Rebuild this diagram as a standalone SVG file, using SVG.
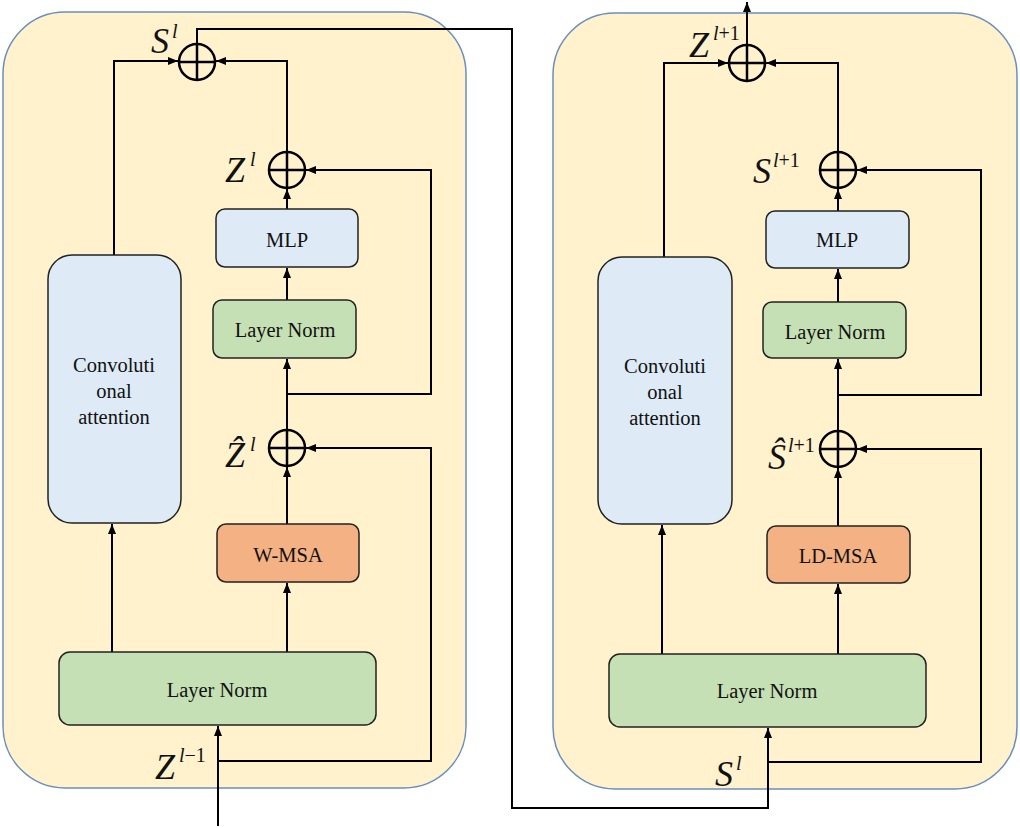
<svg xmlns="http://www.w3.org/2000/svg" width="1020" height="828" viewBox="0 0 1020 828">
<style>
.panel{fill:#FFF2CC;stroke:#6C8EBF;stroke-width:1.5}
.blue{fill:#DEEBF7;stroke:#222;stroke-width:1.5}
.green{fill:#C5E0B4;stroke:#222;stroke-width:1.5}
.orange{fill:#F4B183;stroke:#222;stroke-width:1.5}
.lbl{font-family:"Liberation Serif","Times New Roman",serif;font-size:20.5px;fill:#111;text-anchor:middle}
.math{font-family:"Liberation Serif","DejaVu Serif",serif;font-style:italic;font-size:36px;fill:#111}
.sup{font-family:"Liberation Serif","DejaVu Serif",serif;font-style:italic;font-size:20px;fill:#111}
.up{font-style:normal}
.wire{fill:none;stroke:#000;stroke-width:2}
.add circle{fill:none;stroke:#000;stroke-width:2.5}
.add line{stroke:#000;stroke-width:2.5}
</style>
<defs>
<marker id="ah" markerUnits="userSpaceOnUse" markerWidth="10" markerHeight="8" refX="10" refY="4" orient="auto">
<path d="M0,0 L10,4 L0,8 z" fill="#000"/>
</marker>
</defs>
<rect width="1020" height="828" fill="#fff"/>
<g id="panel-left"><rect class="panel" x="3" y="12" width="463" height="776" rx="62"/></g>
<g id="panel-right"><rect class="panel" x="553" y="13" width="464" height="776" rx="62"/></g>

<g id="connectors" class="wire" marker-end="url(#ah)">
<polyline points="114,255 114,61 178,61"/>
<polyline points="287,152 287,61 216,61"/>
<polyline points="197,44 197,29 512,29 512,808 768,808 768,728"/>
<polyline points="287,209 287,189"/>
<polyline points="287,394 431,394 431,170 306,170"/>
<polyline points="287,300 287,268"/>
<polyline points="287,430 287,359"/>
<polyline points="287,524 287,467"/>
<polyline points="287,652 287,583"/>
<polyline points="112,652 112,524"/>
<polyline points="218,826 218,726"/>
<polyline points="218,761 431,761 431,448 306,448"/>

<polyline points="664,257 664,63 728,63"/>
<polyline points="838,152 838,63 766,63"/>
<polyline points="747,45 747,2"/>
<polyline points="838,211 838,189"/>
<polyline points="838,395 981,395 981,170 857,170"/>
<polyline points="838,302 838,269"/>
<polyline points="838,431 838,359"/>
<polyline points="838,526 838,468"/>
<polyline points="838,654 838,584"/>
<polyline points="662,654 662,525"/>
<polyline points="768,762 981,762 981,449 857,449"/>
</g>

<g id="add-S" class="add"><circle cx="197" cy="62" r="18"/><line x1="179" y1="62" x2="215" y2="62"/><line x1="197" y1="44" x2="197" y2="80"/></g>
<g id="add-Z" class="add"><circle cx="287" cy="170" r="18"/><line x1="269" y1="170" x2="305" y2="170"/><line x1="287" y1="152" x2="287" y2="188"/></g>
<g id="add-Zhat" class="add"><circle cx="287" cy="448" r="18"/><line x1="269" y1="448" x2="305" y2="448"/><line x1="287" y1="430" x2="287" y2="466"/></g>
<g id="add-Z1" class="add"><circle cx="747" cy="63" r="18"/><line x1="729" y1="63" x2="765" y2="63"/><line x1="747" y1="45" x2="747" y2="81"/></g>
<g id="add-S1" class="add"><circle cx="838" cy="170" r="18"/><line x1="820" y1="170" x2="856" y2="170"/><line x1="838" y1="152" x2="838" y2="188"/></g>
<g id="add-Shat" class="add"><circle cx="838" cy="449" r="18"/><line x1="820" y1="449" x2="856" y2="449"/><line x1="838" y1="431" x2="838" y2="467"/></g>

<g id="conv-left"><rect class="blue" x="48" y="255" width="133" height="268" rx="24"/>
<text class="lbl" x="114" y="372">Convoluti</text><text class="lbl" x="114" y="398">onal</text><text class="lbl" x="114" y="424">attention</text></g>
<g id="mlp-left"><rect class="blue" x="216" y="209" width="142" height="58" rx="9"/><text class="lbl" x="287" y="247">MLP</text></g>
<g id="ln-small-left"><rect class="green" x="213" y="300" width="143" height="58" rx="9"/><text class="lbl" x="285" y="337">Layer Norm</text></g>
<g id="wmsa"><rect class="orange" x="217" y="524" width="142" height="58" rx="9"/><text class="lbl" x="288" y="562">W-MSA</text></g>
<g id="ln-big-left"><rect class="green" x="59" y="652" width="317" height="73" rx="11"/><text class="lbl" x="217" y="697">Layer Norm</text></g>

<g id="conv-right"><rect class="blue" x="598" y="257" width="134" height="267" rx="24"/>
<text class="lbl" x="665" y="373">Convoluti</text><text class="lbl" x="665" y="399">onal</text><text class="lbl" x="665" y="425">attention</text></g>
<g id="mlp-right"><rect class="blue" x="766" y="211" width="143" height="57" rx="9"/><text class="lbl" x="837" y="247">MLP</text></g>
<g id="ln-small-right"><rect class="green" x="763" y="302" width="143" height="56" rx="9"/><text class="lbl" x="835" y="339">Layer Norm</text></g>
<g id="ldmsa"><rect class="orange" x="767" y="526" width="143" height="57" rx="9"/><text class="lbl" x="838" y="563">LD-MSA</text></g>
<g id="ln-big-right"><rect class="green" x="609" y="654" width="317" height="73" rx="11"/><text class="lbl" x="767" y="698">Layer Norm</text></g>

<g id="labels">
<text class="math" x="151" y="53">S</text><text class="sup" x="172" y="38">l</text>
<text class="math" x="225" y="182">Z</text><text class="sup" x="250" y="166">l</text>
<text class="math" x="225" y="467">Ẑ</text><text class="sup" x="250" y="451">l</text>
<text class="math" x="155" y="779">Z</text><text class="sup" x="179" y="762">l<tspan class="up">−1</tspan></text>
<text class="math" x="689" y="57">Z</text><text class="sup" x="713" y="40">l<tspan class="up">+1</tspan></text>
<text class="math" x="753" y="183">S</text><text class="sup" x="773" y="167">l<tspan class="up">+1</tspan></text>
<text class="math" x="768" y="469">Ŝ</text><text class="sup" x="788" y="452">l<tspan class="up">+1</tspan></text>
<text class="math" x="715" y="786">S</text><text class="sup" x="736" y="770">l</text>
</g>
</svg>
